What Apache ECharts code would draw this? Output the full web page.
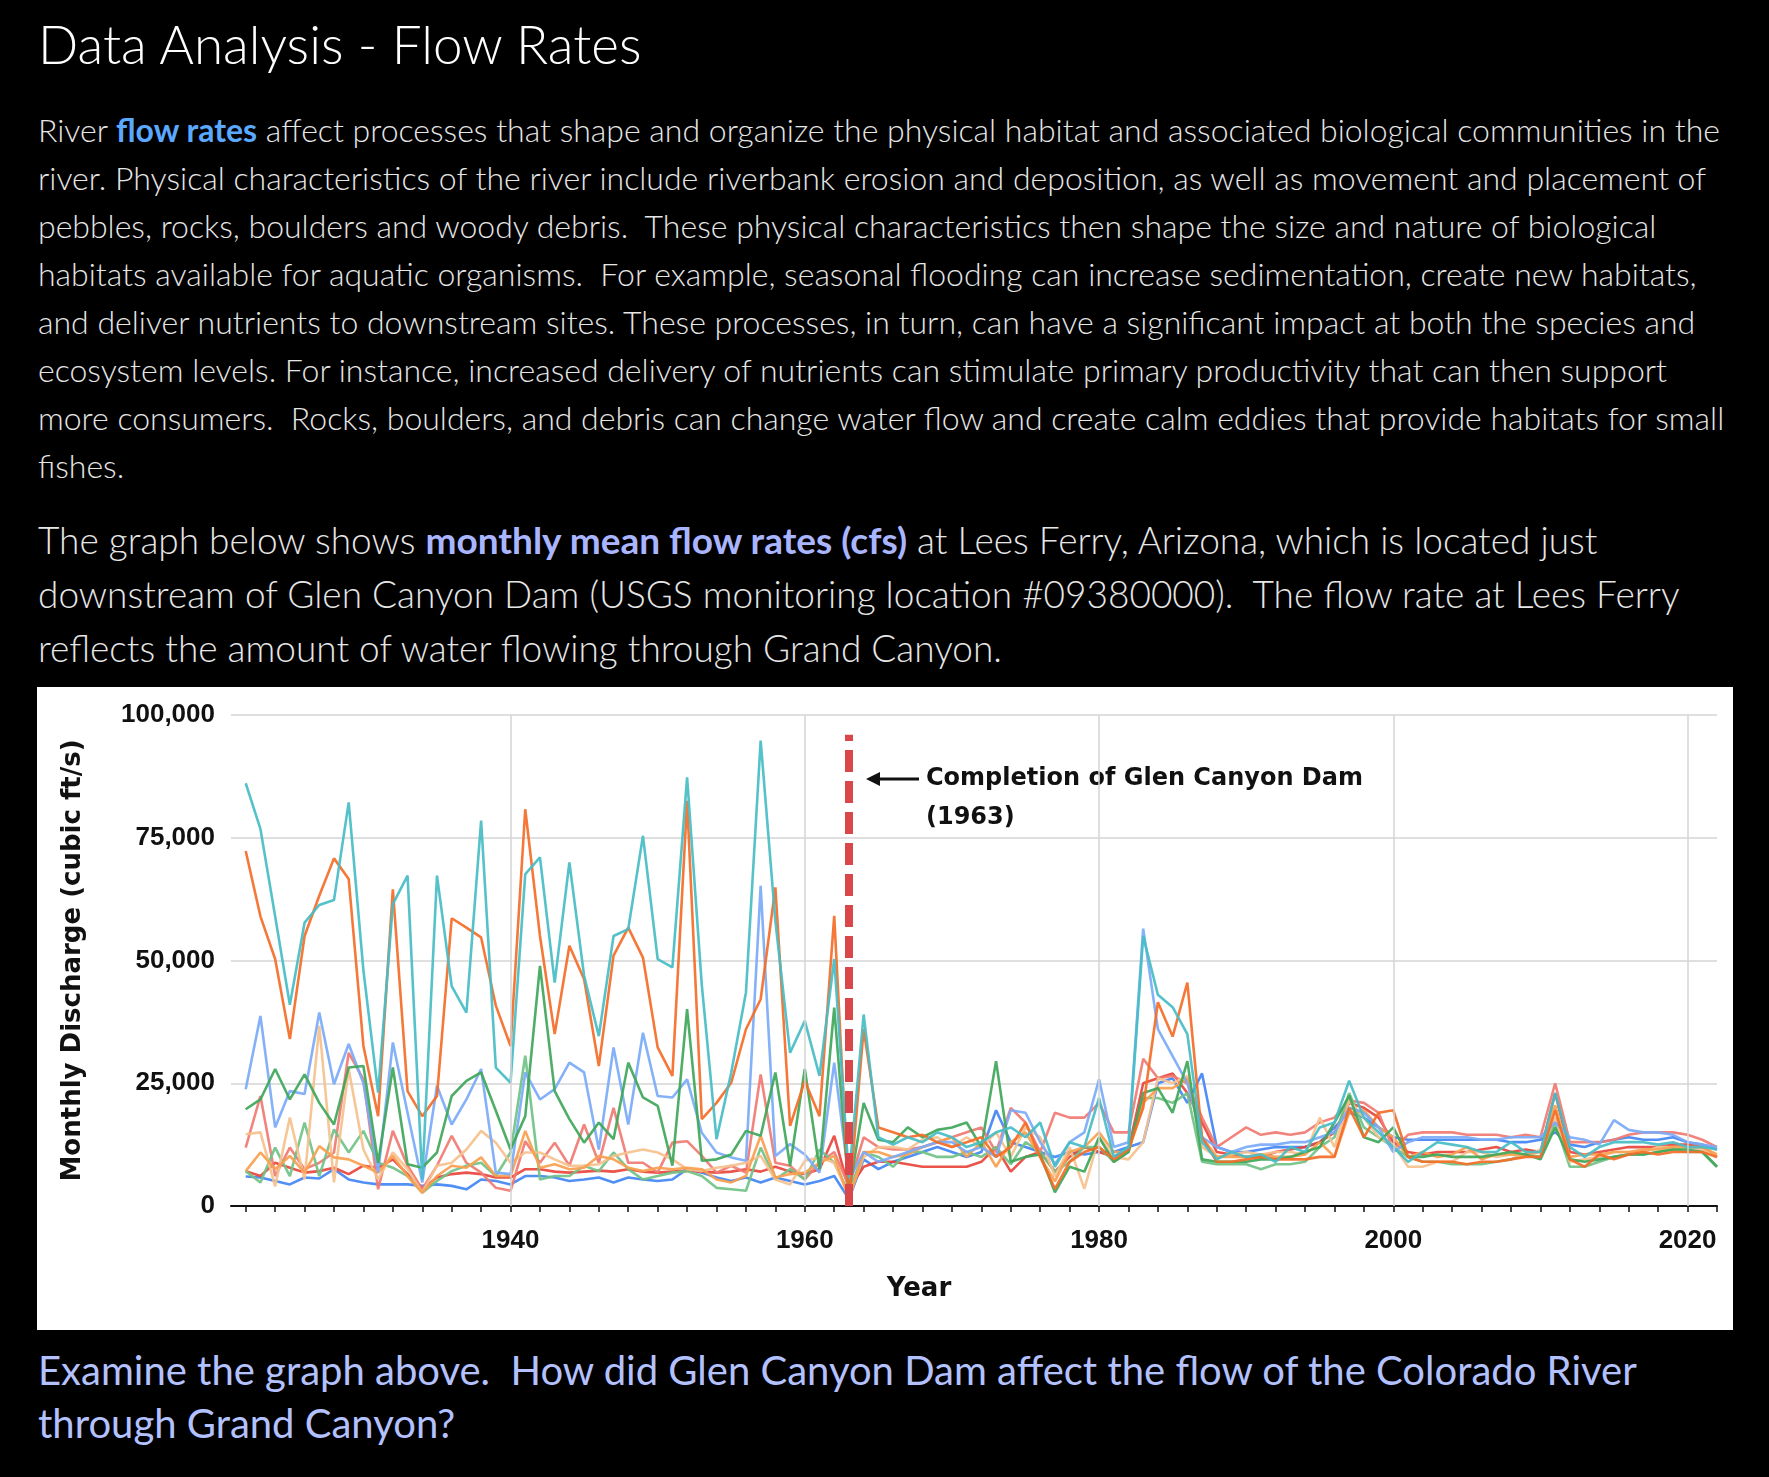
<!DOCTYPE html>
<html>
<head>
<meta charset="utf-8">
<script src="https://cdn.jsdelivr.net/npm/echarts@6/dist/echarts.min.js"></script>
<style>
  html, body { margin: 0; padding: 0; background: #000; }
  body { width: 1769px; height: 1477px; position: relative; overflow: hidden; font-family: Lato, "Open Sans", sans-serif; }
  .txt { position: absolute; left: 38px; white-space: nowrap; color: #e6e6e6; font-weight: 300; }
  #title { top: 13px; font-size: 53px; line-height: 62px; color: #fff; }
  #p1 { top: 106px; font-size: 32px; line-height: 48px; }
  #p2 { top: 513px; font-size: 37px; line-height: 54px; }
  #q { top: 1344px; font-size: 40px; line-height: 53px; color: #b3c1ff; font-weight: 400; }
  .hl1 { color: #5aa9ff; font-weight: 700; }
  .hl2 { color: #a9b6ff; font-weight: 700; }
  #panel { position: absolute; left: 37px; top: 687px; width: 1696px; height: 643px; background: #fff; }
  #chart { width: 1696px; height: 643px; }
</style>
</head>
<body>
<div class="txt" id="title">Data Analysis - Flow Rates</div>
<div class="txt" id="p1">River <span class="hl1">flow rates</span> affect processes that shape and organize the physical habitat and associated biological communities in the<br>river. Physical characteristics of the river include riverbank erosion and deposition, as well as movement and placement of<br>pebbles, rocks, boulders and woody debris.&nbsp; These physical characteristics then shape the size and nature of biological<br>habitats available for aquatic organisms.&nbsp; For example, seasonal flooding can increase sedimentation, create new habitats,<br>and deliver nutrients to downstream sites. These processes, in turn, can have a significant impact at both the species and<br>ecosystem levels. For instance, increased delivery of nutrients can stimulate primary productivity that can then support<br>more consumers.&nbsp; Rocks, boulders, and debris can change water flow and create calm eddies that provide habitats for small<br>fishes.</div>
<div class="txt" id="p2">The graph below shows <span class="hl2">monthly mean flow rates (cfs)</span> at Lees Ferry, Arizona, which is located just<br>downstream of Glen Canyon Dam (USGS monitoring location #09380000).&nbsp; The flow rate at Lees Ferry<br>reflects the amount of water flowing through Grand Canyon.</div>
<div id="panel"><div id="chart"></div></div>
<div class="txt" id="q">Examine the graph above.&nbsp; How did Glen Canyon Dam affect the flow of the Colorado River<br>through Grand Canyon?</div>

<script>
// monthly mean discharge at Lees Ferry, one value per year 1922..2022 (cfs)
var startYear = 1922;
var damYear = 1963;
var labelYears = [1940, 1960, 1980, 2000, 2020];

var jan = [6000, 5800, 5100, 4400, 5800, 5600, 7500, 5400, 4800, 4400,
  4400, 4400, 4100, 4400, 4100, 3400, 5400, 5100, 4400, 6100,
  6100, 5800, 5100, 5400, 5800, 4800, 5800, 5400, 5100, 5400,
  7500, 6800, 5800, 5100, 5800, 4800, 5800, 5100, 4400, 5100, 6100, 1400,
  9500, 7500, 9000, 10000, 11000, 12000, 11000, 10000, 11000, 19500,
  13000, 12000, 11000, 10000, 11000, 10500, 11000, 11000, 12000, 13000,
  25000, 26000, 21000, 27000, 12000, 11000, 11000, 11500, 12000, 12000,
  12000, 13000, 16000, 19000, 18000, 16000, 14000, 13500, 13500, 13500,
  13500, 13500, 13500, 13500, 13000, 13000, 13500, 15000, 12500, 12000,
  13000, 13500, 14000, 13500, 13500, 14000, 13000, 12500, 11500];

var feb = [7100, 6100, 8800, 7800, 6800, 7100, 7800, 6500, 8200, 7800,
  9500, 6500, 3400, 5800, 6500, 6800, 6500, 5800, 5800, 7500,
  7500, 7000, 6800, 7000, 7200, 7000, 7500, 7000, 6800, 7000,
  7200, 7000, 6800, 7000, 7500, 7000, 8000, 7000, 6500, 7500, 14300, 3500,
  8000, 9000, 9000, 8500, 8000, 8000, 8000, 8000, 9000, 12000,
  7000, 10000, 11000, 7000, 10000, 12000, 11000, 10000, 11500, 25000,
  26000, 27000, 23000, 17000, 11000, 10500, 10000, 10000, 11000, 11500,
  12000, 13000, 15000, 21000, 20000, 18000, 13000, 11000, 10500, 11000,
  11000, 11000, 11500, 12000, 11000, 11500, 11000, 23000, 11000, 10500,
  11000, 11500, 12000, 12000, 12000, 12500, 12500, 12000, 10000];

var mar = [11900, 22400, 6100, 11900, 7500, 8800, 10900, 31200, 25800, 3400,
  15300, 8200, 3400, 8200, 14300, 8800, 6800, 3700, 3100, 13200,
  8800, 12900, 8200, 16600, 8800, 20000, 8800, 8800, 6800, 12900,
  13200, 10200, 6800, 8200, 6800, 26800, 8800, 8200, 5400, 8800, 11000, 4000,
  14000, 12000, 11500, 11500, 12000, 13000, 14000, 15000, 16000, 11000,
  20000, 17000, 11000, 19000, 18000, 18000, 21000, 15000, 15000, 30000,
  26000, 26500, 25000, 18000, 12000, 14000, 16000, 14500, 15000, 14500,
  15000, 17000, 18000, 21500, 21000, 19000, 11500, 14500, 15000, 15000,
  15000, 14500, 14500, 14500, 14000, 14500, 14000, 25000, 13000, 13000,
  13000, 13500, 14500, 15000, 15000, 15000, 14500, 13500, 12000];

var apr = [23800, 38700, 16000, 23400, 22800, 39400, 24800, 33000, 25000, 6800,
  33300, 19000, 4800, 24500, 16600, 21700, 27900, 6800, 6500, 27200,
  21700, 23800, 29200, 27200, 11500, 32300, 16600, 35300, 22400, 22100,
  25800, 14900, 10900, 9900, 9200, 65200, 10200, 12600, 10500, 6800, 29200, 5400,
  11000, 9000, 10000, 11000, 12000, 13000, 13000, 11000, 12000, 10000,
  19500, 19000, 13000, 8500, 13000, 15000, 25800, 12000, 13000, 56500,
  36000, 30500, 25000, 14000, 12000, 11000, 12000, 12500, 12500, 13000,
  13000, 14000, 15000, 20000, 19000, 16000, 11000, 13000, 14000, 14000,
  14000, 14000, 13500, 13500, 14000, 14000, 14000, 17000, 14000, 13500,
  12500, 17500, 15500, 15000, 15000, 14500, 13000, 12500, 12000];

var may = [72300, 59000, 50300, 34000, 55000, 63200, 70800, 66600, 32600, 18300,
  64500, 23400, 18300, 22400, 58600, 56700, 54700, 40800, 32600, 80800,
  55000, 35000, 53000, 46200, 28500, 51000, 56700, 50600, 32300, 26500,
  82500, 17700, 21000, 25100, 36000, 42100, 64900, 16300, 25500, 18300, 59100, 700,
  36000, 16000, 15000, 14000, 14500, 13000, 12000, 13000, 14000, 10000,
  12000, 17000, 10000, 3500, 9000, 11000, 12000, 9500, 11500, 20000,
  41500, 34500, 45500, 14000, 9000, 9000, 9500, 10000, 9500, 9500,
  9500, 10000, 10000, 20000, 14000, 19000, 19500, 10000, 9000, 9000,
  9000, 8500, 9000, 9000, 9500, 10000, 10000, 19500, 9500, 8000,
  10500, 9500, 10500, 11000, 10500, 11000, 11000, 11000, 10000];

var jun = [86100, 76800, 59000, 41000, 57700, 61300, 62300, 82200, 48000, 23100,
  61500, 67300, 5400, 67300, 44800, 39400, 78500, 28200, 25100, 67600,
  71000, 45500, 70000, 46900, 34600, 55000, 56400, 75400, 50300, 48600,
  87300, 45000, 13600, 27200, 43500, 94800, 58000, 31200, 37700, 26500, 50300, 5800,
  39000, 14000, 12500, 14000, 13000, 15000, 14000, 12000, 13000, 15000,
  16000, 14000, 17000, 8000, 13000, 12000, 22000, 10000, 12000, 55000,
  43000, 40500, 35000, 13000, 9500, 11000, 10000, 10500, 9000, 12000,
  11000, 16000, 17000, 25500, 18000, 15000, 12000, 9000, 11000, 13000,
  12500, 12000, 11000, 11000, 13000, 11000, 11000, 23000, 12000, 10000,
  12000, 13000, 13000, 13000, 12500, 13000, 12000, 12000, 11500];

var jul = [19700, 21700, 27900, 21700, 26800, 21000, 16600, 28200, 28500, 8800,
  28200, 8500, 7800, 10900, 22400, 25500, 27200, 19400, 11500, 18300,
  48900, 23400, 17700, 12900, 17000, 13600, 29200, 22100, 20400, 8200,
  40100, 9200, 9500, 10500, 15300, 14300, 27200, 8200, 27900, 7500, 40400, 2700,
  21000, 13500, 13000, 16000, 14000, 15500, 16000, 17000, 12000, 29500,
  9000, 10000, 10500, 2800, 8000, 7000, 14000, 9000, 11000, 23000,
  24000, 19000, 29500, 9500, 9000, 9000, 9000, 9500, 9500, 10000,
  11000, 12000, 17000, 22500, 14000, 13000, 16000, 10000, 10000, 10500,
  10000, 10000, 10000, 10500, 11000, 10500, 9500, 16000, 9500, 9000,
  9500, 10000, 10500, 10500, 11000, 11500, 11500, 11000, 8000];

var aug = [7100, 4800, 11900, 6100, 17000, 6100, 15600, 10900, 15300, 8800,
  7800, 6100, 2700, 5100, 7100, 8200, 8800, 6100, 10900, 30600,
  5400, 6100, 6100, 8200, 7100, 10900, 7500, 5400, 6100, 6800,
  7100, 6100, 3700, 3400, 3100, 11900, 5400, 7500, 5400, 11500, 8800, 2700,
  11000, 10000, 8000, 11000, 11000, 10000, 10000, 11000, 10000, 12000,
  8500, 13000, 11000, 7000, 9000, 12000, 12000, 9000, 11000, 22000,
  22000, 21000, 23000, 9000, 8500, 8500, 8500, 7500, 8500, 8500,
  9000, 12000, 14000, 23000, 16000, 14000, 12000, 10000, 9000, 9000,
  8500, 8500, 8500, 9000, 9500, 10500, 10000, 17000, 8000, 8000,
  9000, 10000, 10500, 10500, 11000, 11500, 11000, 11000, 8000];

var sep = [14600, 15000, 4000, 18000, 5400, 36700, 4800, 27900, 11500, 5400,
  10900, 7500, 2700, 8200, 8800, 11500, 15300, 12900, 8800, 10900,
  10900, 9500, 8200, 8200, 8500, 10200, 10900, 11500, 10900, 9500,
  7500, 7100, 7800, 8200, 8800, 10200, 5400, 4400, 9200, 9900, 8800, 2000,
  10000, 12000, 12000, 11500, 13500, 14000, 12000, 14000, 12000, 15000,
  10000, 16000, 14000, 6000, 12000, 3500, 14000, 10000, 9500, 13000,
  26000, 25000, 26500, 12000, 10000, 10500, 11000, 10500, 11000, 11000,
  10500, 18000, 12000, 21500, 18000, 14000, 12500, 8000, 8000, 9000,
  9000, 11000, 11000, 10000, 10500, 10000, 11500, 18000, 9000, 9500,
  10000, 11000, 11000, 11000, 12000, 12000, 12000, 11500, 10000];

var oct = [7100, 10900, 7500, 10200, 6800, 12200, 9900, 9500, 8200, 6800,
  10200, 6100, 2700, 6100, 8200, 7800, 9900, 6100, 6100, 15300,
  7800, 8500, 7500, 7800, 10200, 9500, 7800, 7100, 7800, 7500,
  7800, 7500, 5400, 4800, 6100, 14300, 5800, 6500, 6800, 8800, 10200, 1400,
  11000, 11000, 10000, 10500, 12000, 13000, 14000, 10000, 13000, 8000,
  13000, 15000, 10000, 5000, 11000, 12000, 15000, 11000, 11000, 21000,
  24000, 24000, 26000, 14000, 10000, 10000, 10000, 10500, 10000, 10000,
  10500, 13000, 10000, 19000, 19500, 16000, 14000, 10000, 11000, 10000,
  10500, 12000, 9500, 10500, 10500, 10500, 11000, 20500, 10000, 10500,
  10500, 11000, 11000, 11500, 11500, 12000, 12000, 12000, 10500];

var monthSeries = [
  { name: 'Jan', values: jan, color: '#4285f4' },
  { name: 'Feb', values: feb, color: '#e8453c' },
  { name: 'Mar', values: mar, color: '#f07b72' },
  { name: 'Aug', values: aug, color: '#71c287' },
  { name: 'Sep', values: sep, color: '#f6c18e' },
  { name: 'Oct', values: oct, color: '#f9a04f' },
  { name: 'Apr', values: apr, color: '#7baaf7' },
  { name: 'Jul', values: jul, color: '#3fa75a' },
  { name: 'May', values: may, color: '#f46d27' },
  { name: 'Jun', values: jun, color: '#46bdc6' }
];

var chart = echarts.init(document.getElementById('chart'));

function toPairs(vals) {
  return vals.map(function (v, i) { return [startYear + i, v]; });
}

var tickYears = [];
for (var y = startYear; y <= 2022; y += 2) tickYears.push(y);

var bold = { fontWeight: 'bold', fontFamily: 'DejaVu Sans', color: '#111' };

var series = monthSeries.map(function (m) {
  return {
    name: m.name,
    type: 'line',
    data: toPairs(m.values),
    showSymbol: false,
    z: 3,
    lineStyle: { width: 2.6, color: m.color, opacity: 0.92 },
    itemStyle: { color: m.color }
  };
});

// vertical grid lines
series.push({
  type: 'line', data: [], z: 1, silent: true,
  markLine: {
    silent: true, symbol: ['none', 'none'], label: { show: false },
    lineStyle: { color: '#d4d4d4', width: 1.5, type: 'solid' },
    data: labelYears.map(function (yr) { return { xAxis: yr }; })
  }
});

// dam completion line
series.push({
  type: 'line', data: [], z: 5, silent: true,
  markLine: {
    silent: true, symbol: ['none', 'none'], label: { show: false },
    lineStyle: { color: '#d9474a', width: 8, type: [22, 9] },
    data: [[{ coord: [damYear, 0] }, { coord: [damYear, 96000] }]]
  }
});

var option = {
  animation: false,
  backgroundColor: '#fff',
  grid: { left: 194, right: 16, top: 28, bottom: 124 },
  xAxis: {
    type: 'value', min: 1921, max: 2022,
    axisLine: { lineStyle: { color: '#111', width: 2 } },
    axisTick: { customValues: tickYears, length: 6, lineStyle: { color: '#111', width: 1.5 } },
    axisLabel: {
      customValues: labelYears, margin: 22, fontSize: 26, fontWeight: 'bold',
      fontFamily: 'Liberation Sans', color: '#111',
      formatter: function (v) { return String(v); }
    },
    splitLine: { show: false }
  },
  yAxis: {
    type: 'value', min: 0, max: 100000, interval: 25000,
    name: 'Monthly Discharge (cubic ft/s)', nameLocation: 'middle', nameGap: 145,
    nameTextStyle: Object.assign({ fontSize: 26 }, bold),
    axisLine: { show: false }, axisTick: { show: false },
    axisLabel: {
      margin: 16, fontSize: 26, fontWeight: 'bold', fontFamily: 'Liberation Sans', color: '#111',
      formatter: function (v) { return v.toLocaleString('en-US'); }
    },
    splitLine: { lineStyle: { color: '#d4d4d4', width: 1.5 } }
  },
  graphic: [
    { type: 'line', shape: { x1: 882, y1: 92, x2: 838, y2: 92 }, style: { stroke: '#111', lineWidth: 3 } },
    { type: 'polygon', shape: { points: [[829, 92], [843, 85], [843, 99]] }, style: { fill: '#111' } },
    { type: 'text', style: { text: 'Completion of Glen Canyon Dam', x: 889, y: 92, verticalAlign: 'middle', fontSize: 24, fontWeight: 'bold', fontFamily: 'DejaVu Sans', fill: '#111' } },
    { type: 'text', style: { text: '(1963)', x: 889, y: 131, verticalAlign: 'middle', fontSize: 24, fontWeight: 'bold', fontFamily: 'DejaVu Sans', fill: '#111' } },
    { type: 'text', style: { text: 'Year', x: 882, y: 602, align: 'center', verticalAlign: 'middle', fontSize: 26, fontWeight: 'bold', fontFamily: 'DejaVu Sans', fill: '#111' } }
  ],
  series: series
};

chart.setOption(option);
</script>
</body>
</html>
